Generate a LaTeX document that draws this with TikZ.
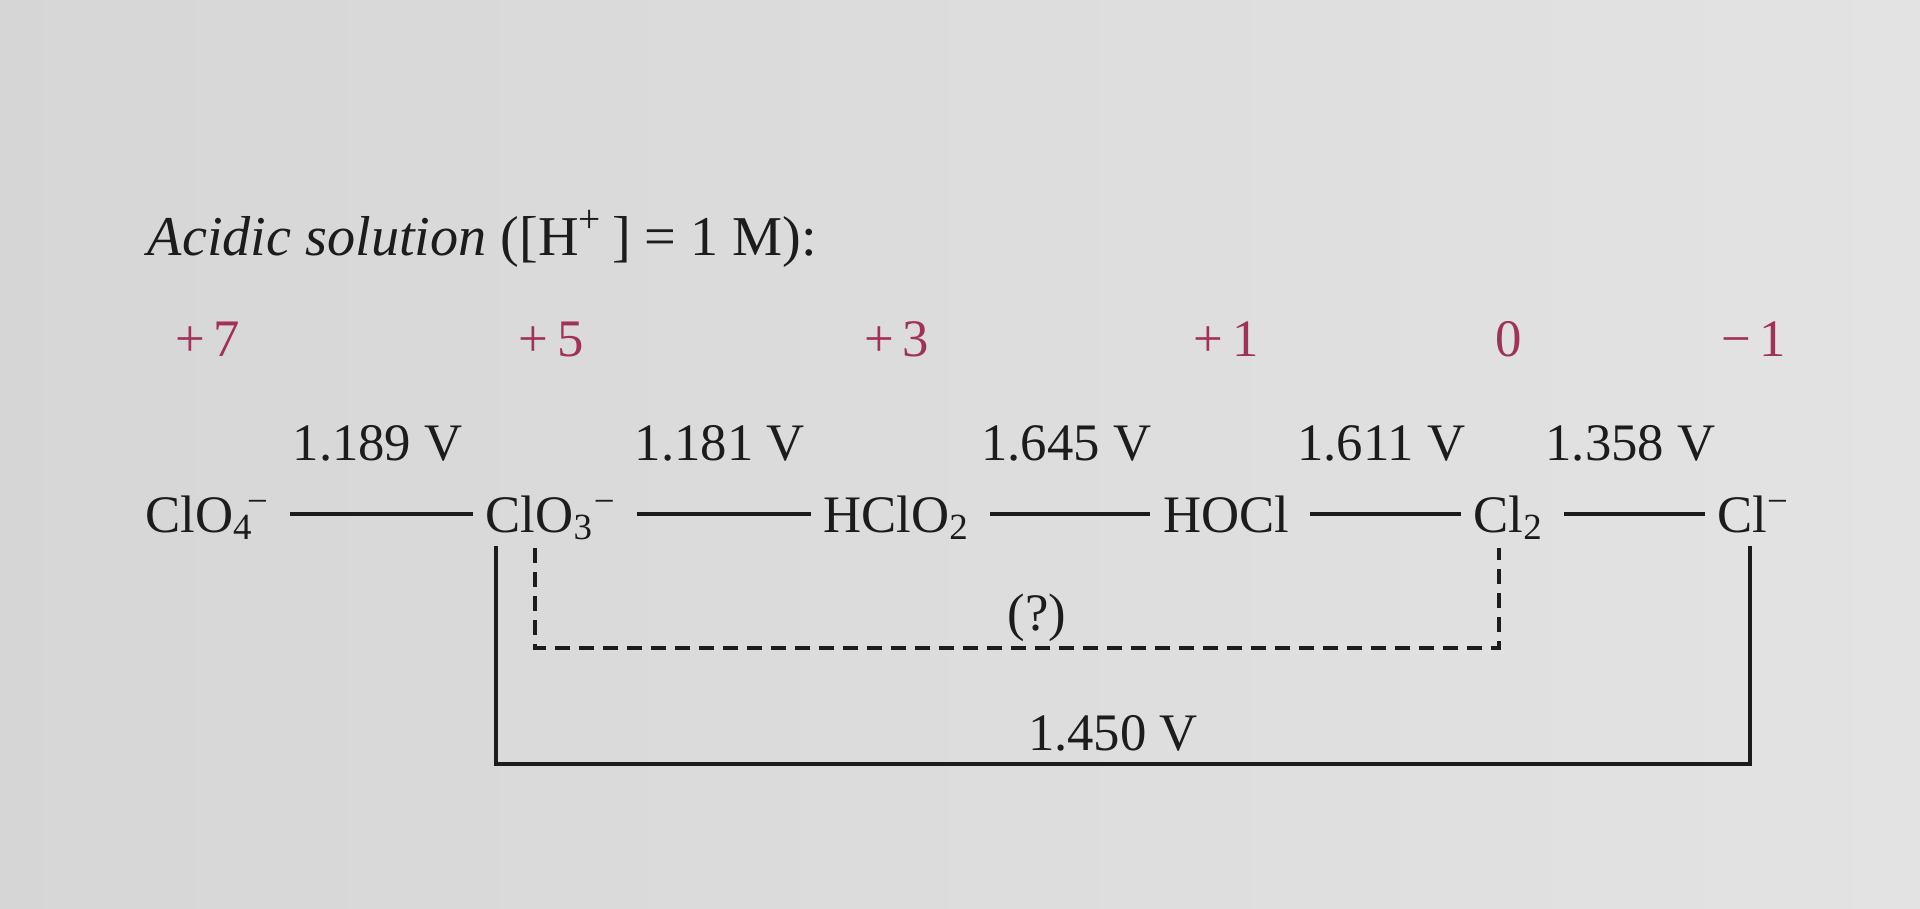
\documentclass[tikz,border=0pt]{standalone}
\usepackage{fontspec}
\setmainfont{Liberation Serif}
\usepackage{tikz}
\usetikzlibrary{positioning}

\definecolor{inkgray}{RGB}{28,28,28}
\definecolor{oxred}{RGB}{160,50,90}
\newcommand{\chemfont}{\fontsize{15}{18}\selectfont}

\begin{document}
\begin{tikzpicture}[
    species/.style={inner sep=0pt, anchor=base, text height=0.45cm, text depth=0.09cm, font=\chemfont, text=inkgray},
    oxstate/.style={inner sep=0pt, text height=0.35cm, text depth=0pt, font=\chemfont, text=oxred},
    volt/.style={inner sep=0pt, font=\chemfont, text=inkgray},
    link/.style={line width=1.1pt, draw=inkgray, shorten <=0.2cm, shorten >=0.12cm},
    bracket/.style={line width=0.95pt, draw=inkgray}
]
    % Photo background
    \shade[left color=black!16, middle color=black!20, right color=black!11] (0,0) rectangle (19.2,9.08);

    % Heading
    \node[anchor=base west, inner sep=0pt, font=\fontsize{16}{19}\selectfont, text=inkgray] (title) at (1.47,6.53) {\textit{Acidic solution} ([H\textsuperscript{+}\,] = 1 M):};

    % Chlorine species
    \node[species] (clo4) at (2.075,3.76) {ClO\textsubscript{4}\kern-0.12em\textsuperscript{−}};
    \node[species] (clo3) at (5.51,3.76) {ClO\textsubscript{3}\textsuperscript{−}};
    \node[species] (hclo2) at (8.965,3.76) {HClO\textsubscript{2}};
    \node[species] (hocl) at (12.26,3.76) {HOCl};
    \node[species] (cltwo) at (15.085,3.76) {Cl\textsubscript{2}};
    \node[species] (cl) at (17.535,3.76) {Cl\textsuperscript{−}};

    % Oxidation states
    \node[oxstate, above=1.29cm of clo4] (ox7) {+\,7};
    \node[oxstate, above=1.29cm of clo3] (ox5) {+\,5};
    \node[oxstate, above=1.29cm of hclo2] (ox3) {+\,3};
    \node[oxstate, above=1.29cm of hocl] (ox1) {+\,1};
    \node[oxstate, above=1.29cm of cltwo] (ox0) {0};
    \node[oxstate, above=1.29cm of cl] (oxm1) {−\,1};

    % Reduction potentials
    \draw[link] (clo4) -- node[volt, above=0.51cm] (e1) {1.189 V} (clo3);
    \draw[link] (clo3) -- node[volt, above=0.51cm] (e2) {1.181 V} (hclo2);
    \draw[link] (hclo2) -- node[volt, above=0.51cm] (e3) {1.645 V} (hocl);
    \draw[link] (hocl) -- node[volt, above=0.51cm] (e4) {1.611 V} (cltwo);
    \draw[link] (cltwo) -- node[volt, above=0.51cm] (e5) {1.358 V} (cl);

    % Combined steps
    \coordinate (solidbase) at (11.13,1.44);
    \coordinate (dashbase) at (10.37,2.60);
    \draw[bracket] ([xshift=-0.55cm,yshift=-0.04cm]clo3.south) |- (solidbase) -| ([xshift=-0.035cm,yshift=-0.04cm]cl.south);
    \draw[bracket, dash pattern=on 0.15cm off 0.09cm] ([xshift=-0.16cm,yshift=-0.06cm]clo3.south) |- (dashbase) -| ([xshift=-0.095cm,yshift=-0.06cm]cltwo.south);
    \node[volt, above=0.12cm of solidbase] (total) {1.450 V};
    \node[volt, above=0.06cm of dashbase] (unknown) {(?)};

\end{tikzpicture}
\end{document}
